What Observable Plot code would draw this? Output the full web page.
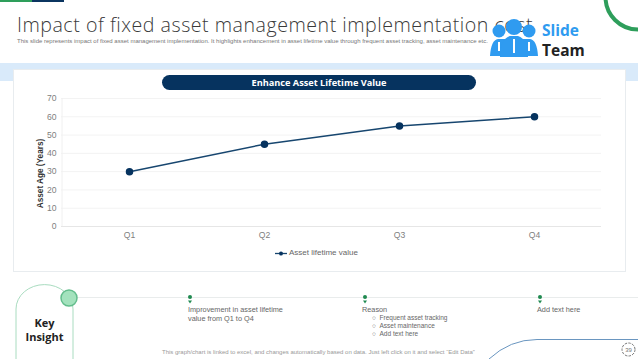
<!DOCTYPE html>
<html><head><meta charset="utf-8">
<script src="https://cdn.jsdelivr.net/npm/d3@7"></script>
<script src="https://cdn.jsdelivr.net/npm/@observablehq/plot@0.6"></script>
<style>
html,body{margin:0;padding:0;background:#fff;overflow:hidden}
#page{position:relative;width:638px;height:359px;overflow:hidden;font-family:"Liberation Sans",sans-serif;color:#555}
#page>*{position:absolute}
.t{white-space:nowrap}
#chart{left:0;top:0;z-index:3}
#chart svg{display:block;background:transparent}
ul{margin:0;padding:0;list-style:none}
</style></head><body>
<div id="page">
<div style="left:0;top:0;width:32px;height:2px;background:#2e9e5b"></div>
<div style="left:32px;top:0;width:32px;height:2px;background:#0b3560"></div>
<div style="left:0;top:63px;width:638px;height:18px;background:#d9eafa"></div>
<div style="left:13px;top:69px;width:613px;height:203px;background:#fff;border:1px solid #e8ecef;box-sizing:border-box"></div>
<div class="t" id="title" style="left:17px;top:11px;font:300 19.6px 'Open Sans',sans-serif;letter-spacing:.52px;color:#3a3a3a">Impact of fixed asset management implementation cost</div>
<div class="t" style="left:17px;top:38px;font-size:6px;color:#777">This slide represents impact of fixed asset management implementation. It highlights enhancement in asset lifetime value through frequent asset tracking, asset maintenance etc.</div>
<svg style="left:488px;top:15px;z-index:4" width="100" height="46" viewBox="0 0 100 46">
<g fill="#2f9bf0"><circle cx="11" cy="16" r="6.5"/><circle cx="41" cy="16" r="6.5"/><path d="M2 41 Q3 25 10 24 L18 24 L18 41Z M50 41 Q49 25 42 24 L34 24 L34 41Z"/><circle cx="26" cy="12" r="8"/><path d="M12 42 Q12 24 22 21 L30 21 Q40 24 40 42Z"/></g>
<path d="M25 24h2v14h-2zM10 27h2v9h-2zM40 27h2v9h-2z" fill="#fff"/>
<text x="54" y="21" font-family="Open Sans" font-weight="700" font-size="15.5" fill="#2f9bf0">Slide</text>
<text x="54" y="41" font-family="Open Sans" font-weight="700" font-size="15.5" fill="#222">Team</text>
</svg>
<svg style="left:590px;top:0" width="48" height="36"><circle cx="48" cy="-3" r="32.5" fill="none" stroke="#2e9e5b" stroke-width="4"/></svg>
<div class="t" style="left:162px;top:75px;width:314px;height:15px;border-radius:8px;background:#06335f;color:#fff;font:700 9.2px/15px 'Open Sans',sans-serif;text-align:center;z-index:4">Enhance Asset Lifetime Value</div>
<div id="chart"></div>
<svg style="left:274px;top:250px;z-index:4" width="14" height="7"><line x1="1" x2="13" y1="3.5" y2="3.5" stroke="#17466f" stroke-width="1.3"/><circle cx="7" cy="3.5" r="2" fill="#06335f"/></svg>
<div class="t" style="left:289px;top:248px;font-size:8px;color:#666;z-index:4">Asset lifetime value</div>
<svg style="left:0;top:270px" width="638" height="89">
<line x1="75" x2="638" y1="27.5" y2="27.5" stroke="#e9ecec"/>
<path d="M16 89 V39 A28 24 0 0 1 73 39 V89" fill="none" stroke="#a9dcc0"/>
<circle cx="69" cy="28" r="8" fill="#a3e2bd" stroke="#63bd8c" stroke-width="1.5"/>
<g fill="#1f8a50"><circle cx="190" cy="27" r="2"/><path d="M188 30.5h4l-2 3z"/><circle cx="365" cy="27" r="2"/><path d="M363 30.5h4l-2 3z"/><circle cx="540" cy="27" r="2"/><path d="M538 30.5h4l-2 3z"/></g>
<path d="M489 89 Q510 69.5 537 69.5 H638" fill="none" stroke="#6a96c0" stroke-width="1"/>
</svg>
<div class="t" style="left:16px;top:316px;width:57px;text-align:center;font:700 11px/14px 'Open Sans',sans-serif;color:#222;white-space:normal">Key Insight</div>
<div class="t" style="left:188px;top:305px;font-size:7.3px;line-height:9px;color:#666">Improvement in asset lifetime<br>value from Q1 to Q4</div>
<div class="t" style="left:362px;top:305px;font-size:7.3px;line-height:9px;color:#666">Reason</div>
<ul class="t" style="left:372px;top:314px;font-size:6.5px;line-height:8px;color:#666"><li>○&nbsp;&nbsp;Frequent asset tracking</li><li>○&nbsp;&nbsp;Asset maintenance</li><li>○&nbsp;&nbsp;Add text here</li></ul>
<div class="t" style="left:537px;top:305px;font-size:7.3px;line-height:9px;color:#666">Add text here</div>
<div class="t" style="left:162px;top:349px;font-size:6px;color:#999">This graph/chart is linked to excel, and changes automatically based on data. Just left click on it and select “Edit Data”</div>
<svg style="left:620px;top:340px" width="18" height="19"><circle cx="8.5" cy="9.5" r="6.5" fill="none" stroke="#777" stroke-dasharray="2.5 1.2"/><text x="8.5" y="12" text-anchor="middle" font-size="6" fill="#777" font-family="Liberation Sans">39</text></svg>
</div>
<script>
const quarters = ["Q1","Q2","Q3","Q4"];
const assetAge = [30,45,55,60];
const yTicks = [0,10,20,30,40,50,60,70];
const rows = quarters.map((q,i)=>({q,v:assetAge[i]}));
const chart = Plot.plot({
  width:638,height:359,marginLeft:61,marginRight:37,marginTop:98,marginBottom:133,
  style:{background:"transparent",fontFamily:"Liberation Sans",fontSize:"8.6px",color:"#808080"},
  x:{type:"point",domain:quarters,padding:0.5,label:null,tickSize:0,tickPadding:5},
  y:{domain:[0,70],ticks:yTicks,label:null,tickSize:0,tickPadding:5},
  marks:[
    Plot.gridY(yTicks,{stroke:"#f3f3f3",strokeOpacity:1}),
    Plot.ruleY([0],{stroke:"#e6e6e6"}),
    Plot.ruleX([quarters[0]],{dx:-67.5,y1:0,y2:70,stroke:"#f0f0f0"}),
    Plot.line(rows,{x:"q",y:"v",stroke:"#17466f",strokeWidth:1.5}),
    Plot.dot(rows,{x:"q",y:"v",r:3,fill:"#06335f",stroke:"#06335f"}),
    Plot.text(["Asset Age (Years)"],{frameAnchor:"left",textAnchor:"middle",dx:-21,dy:11,rotate:-90,fontWeight:"bold",fontSize:8.2,fill:"#333",text:d=>d})
  ]
});
document.getElementById("chart").appendChild(chart);
</script>
</body></html>
